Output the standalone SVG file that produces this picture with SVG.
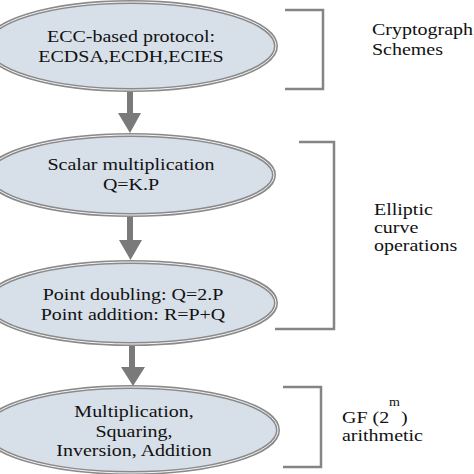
<svg xmlns="http://www.w3.org/2000/svg" width="474" height="474" viewBox="0 0 474 474">
<style>
.node{fill:#d7dfe9;stroke:#8a8a8a;stroke-width:4}
.gap{fill:none;stroke:#f4f4f4;stroke-width:1}
.t{font-family:"Liberation Serif","Times New Roman",serif;font-size:20px;fill:#111}
.c{text-anchor:middle}
.br{fill:none;stroke:#858585;stroke-width:2.5}
.arr{fill:#7a7a7a}
</style>
<rect width="474" height="474" fill="#ffffff"/>
<g id="connectors">
<path class="arr" d="M127,90 H133 V113 H141 L130,133 L118,113 H127 Z"/>
<path class="arr" d="M127,216 H133 V240 H142 L130.5,260 L119,240 H127 Z"/>
<path class="arr" d="M129,345 H135 V367 H145 L133,386 L121,367 H129 Z"/>
</g>
<g id="node-protocol">
<ellipse class="node" cx="131" cy="46" rx="145" ry="44"/>
<ellipse class="gap" cx="131" cy="46" rx="145" ry="44"/>
<text class="t c" transform="translate(131,42) scale(1,0.82)">ECC-based protocol:</text>
<text class="t c" transform="translate(131,62) scale(1,0.82)">ECDSA,ECDH,ECIES</text>
</g>
<g id="node-scalar">
<ellipse class="node" cx="131" cy="175" rx="143" ry="40"/>
<ellipse class="gap" cx="131" cy="175" rx="143" ry="40"/>
<text class="t c" transform="translate(131,170) scale(1,0.82)">Scalar multiplication</text>
<text class="t c" transform="translate(131,190) scale(1,0.82)">Q=K.P</text>
</g>
<g id="node-point">
<ellipse class="node" cx="131" cy="303" rx="145" ry="41"/>
<ellipse class="gap" cx="131" cy="303" rx="145" ry="41"/>
<text class="t c" transform="translate(133,300) scale(1,0.82)">Point doubling: Q=2.P</text>
<text class="t c" transform="translate(133,320) scale(1,0.82)">Point addition: R=P+Q</text>
</g>
<g id="node-field">
<ellipse class="node" cx="131" cy="430" rx="147" ry="43"/>
<ellipse class="gap" cx="131" cy="430" rx="147" ry="43"/>
<text class="t c" transform="translate(134,417) scale(1,0.82)">Multiplication,</text>
<text class="t c" transform="translate(134,437) scale(1,0.82)">Squaring,</text>
<text class="t c" transform="translate(134,456) scale(1,0.82)">Inversion, Addition</text>
</g>
<g id="group-crypto">
<path class="br" d="M285,10 H323 V89 H285"/>
<text class="t" transform="translate(372,35) scale(1,0.82)">Cryptograph</text>
<text class="t" transform="translate(372,55) scale(1,0.82)">Schemes</text>
</g>
<g id="group-ec">
<path class="br" d="M299,142 H334 V329 H275"/>
<text class="t" transform="translate(374,215) scale(1,0.82)">Elliptic</text>
<text class="t" transform="translate(374,233) scale(1,0.82)">curve</text>
<text class="t" transform="translate(374,251) scale(1,0.82)">operations</text>
</g>
<g id="group-gf">
<path class="br" d="M283,387 H321 V467 H283"/>
<text class="t" transform="translate(342,423) scale(1,0.82)">GF (2</text>
<text class="t" style="font-size:14px" transform="translate(389,406) scale(1,0.82)">m</text>
<text class="t" transform="translate(401,423) scale(1,0.82)">)</text>
<text class="t" transform="translate(342,441) scale(1,0.82)">arithmetic</text>
</g>
</svg>
